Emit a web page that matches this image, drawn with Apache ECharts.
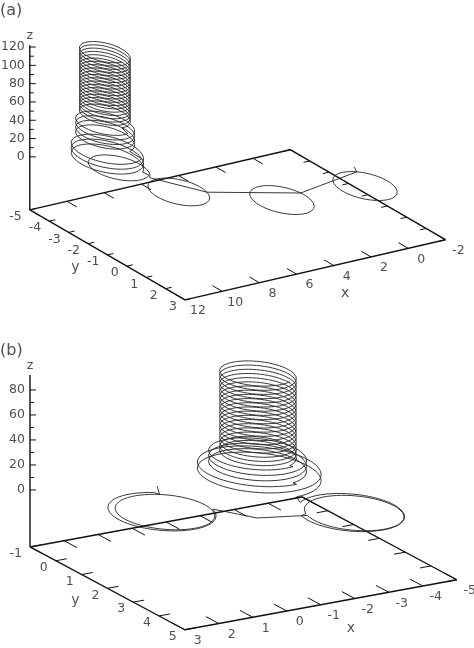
<!DOCTYPE html>
<html><head><meta charset="utf-8">
<script src="https://cdn.jsdelivr.net/npm/echarts@6/dist/echarts.min.js"></script>
<style>html,body{margin:0;padding:0;background:#fff}#c{width:474px;height:648px}</style>
</head><body><div id="c"></div>
<script>
// ---- data (3D) ----
// panel (a)
const aTailX=[0.2], aTailY=[0.4], aTailZ=[0];
const aLoopCx=[1.05,5.17,8.6,9.44,9.6,9.2,8.9];
const aLoopCy=[1.78,1.45,-0.58,-2.85,-3.3,-3.8,-4.1];
const aLoopZ0=[0,0,0,0,4,20,40];
const aLoopZ1=[0,0,0,4,20,40,112];
const aLoopR=[1.2,1.2,1.15,1.15,1.35,1.1,0.95];
const aLoopTurns=[1,1,1,1,3,4,20];
// panel (b)
const bTailX=[0.06], bTailY=[0.05], bTailZ=[0];
const bLoopCx=[0.95,1.0,-0.82,-3.15,-3.1,-2.3,-2.1,-1.96];
const bLoopCy=[1.53,1.48,2.76,3.46,3.4,0.9,1.1,1.3];
const bLoopZ0=[0,0,0,0,0,5,15,28];
const bLoopZ1=[0,0,0,0,0,15,28,95];
const bLoopR=[1.17,1.27,0,1.17,1.26,1.45,1.15,0.9];
const bLoopTurns=[1,0.8,0,1,0.9,2,3,20];
// axis ranges / ticks
const aX=[-2,0,2,4,6,8,10,12], aY=[-5,-4,-3,-2,-1,0,1,2,3], aZ=[0,20,40,60,80,100,120];
const bX=[-5,-4,-3,-2,-1,0,1,2,3], bY=[-1,0,1,2,3,4,5], bZ=[0,20,40,60,80];

// ---- projections (layout) ----
const PA={A:350,B:161.5,ex:[-18.6,4.3],ey:[19.4,11.25],ez:0.915,zf:-58,zt:122,xr:[-2,12],yr:[-5,3]};
const PB={A:157.8,B:485,ex:[-34,6.25],ey:[25.8,13.8],ez:1.25,zf:-45.6,zt:92,xr:[-5,3],yr:[-1,5]};
function proj(P,x,y,z){return [P.A+x*P.ex[0]+y*P.ey[0], P.B+x*P.ex[1]+y*P.ey[1]-z*P.ez];}

function buildPath(P,tx,ty,tz,cx,cy,z0,z1,r,tn){
  const pts=[]; let last=[tx[0],ty[0],tz[0]];
  for(let i=0;i<tx.length;i++){pts.push(proj(P,tx[i],ty[i],tz[i]));last=[tx[i],ty[i],tz[i]];}
  for(let i=0;i<cx.length;i++){
    if(r[i]===0||tn[i]===0){pts.push(proj(P,cx[i],cy[i],z0[i]));last=[cx[i],cy[i],z0[i]];continue;}
    const a0=Math.atan2(last[1]-cy[i],last[0]-cx[i]);
    const n=Math.round(60*tn[i]);
    for(let k=0;k<=n;k++){
      const t=k/n, a=a0+t*tn[i]*2*Math.PI, z=z0[i]+(z1[i]-z0[i])*t;
      const x=cx[i]+r[i]*Math.cos(a), y=cy[i]+r[i]*Math.sin(a);
      pts.push(proj(P,x,y,z)); last=[x,y,z];
    }
  }
  return pts;
}

const series=[];
function line(data,w,c){series.push({type:'line',data,showSymbol:false,silent:true,lineStyle:{width:w,color:c},animation:false});}
function labels(data,align,vAlign,fs){series.push({type:'scatter',symbolSize:0,data,silent:true,animation:false,
  label:{show:true,formatter:p=>p.data[2],color:'#222',fontFamily:'DejaVu Sans',fontSize:fs||12.5,position:'inside',align,verticalAlign:vAlign}});}

function panel(P,xs,ys,zs,path,tag,tagY){
  const [x0,x1]=P.xr,[y0,y1]=P.yr;
  const c00=proj(P,x1,y0,P.zf),c10=proj(P,x0,y0,P.zf),c11=proj(P,x0,y1,P.zf),c01=proj(P,x1,y1,P.zf);
  line([c00,c10,c11,c01,c00],1.4,'#111');
  line([c00,proj(P,x1,y0,P.zt)],1.4,'#111');
  const tl=0.25;
  xs.forEach(v=>{line([proj(P,v,y1,P.zf),proj(P,v,y1-tl*2,P.zf)],1,'#111');line([proj(P,v,y0,P.zf),proj(P,v,y0+tl*2,P.zf)],1,'#111');});
  ys.forEach(v=>{line([proj(P,x1,v,P.zf),proj(P,x1-tl*1.3,v,P.zf)],1,'#111');line([proj(P,x0,v,P.zf),proj(P,x0+tl*1.3,v,P.zf)],1,'#111');});
  for(let z=zs[0];z<=zs[zs.length-1]+0.1;z+=10){const p=proj(P,x1,y0,z);line([p,[p[0]+(z%20===0?6:4),p[1]]],1,'#111');}
  labels(xs.map(v=>{const p=proj(P,v,y1,P.zf);return [p[0]+13,p[1]+11,String(v)];}),'center','middle');
  labels(ys.map(v=>{const p=proj(P,x1,v,P.zf);return [p[0]-8,p[1]+7,String(v)];}),'right','middle');
  labels(zs.map(v=>{const p=proj(P,x1,y0,v);return [p[0]-5,p[1],String(v)];}),'right','middle');
  const zt=proj(P,x1,y0,P.zt);
  labels([[zt[0],zt[1]-9,'z']],'center','middle');
  const xm=proj(P,(x0+x1)/2,y1,P.zf), ym=proj(P,x1,(y0+y1)/2,P.zf);
  labels([[xm[0]+30,xm[1]+24,'x'],[ym[0]-32,ym[1]+12,'y']],'center','middle',14);
  labels([[0,tagY,tag]],'left','middle',16);
  line(path,0.9,'#222');
}
panel(PA,aX,aY,aZ,buildPath(PA,aTailX,aTailY,aTailZ,aLoopCx,aLoopCy,aLoopZ0,aLoopZ1,aLoopR,aLoopTurns),'(a)',11);
panel(PB,bX,bY,bZ,buildPath(PB,bTailX,bTailY,bTailZ,bLoopCx,bLoopCy,bLoopZ0,bLoopZ1,bLoopR,bLoopTurns),'(b)',351);

const chart=echarts.init(document.getElementById('c'),null,{renderer:'canvas'});
chart.setOption({animation:false,
  grid:{left:0,right:0,top:0,bottom:0},
  xAxis:{type:'value',min:0,max:474,show:false},
  yAxis:{type:'value',min:0,max:648,inverse:true,show:false},
  series});
</script></body></html>
